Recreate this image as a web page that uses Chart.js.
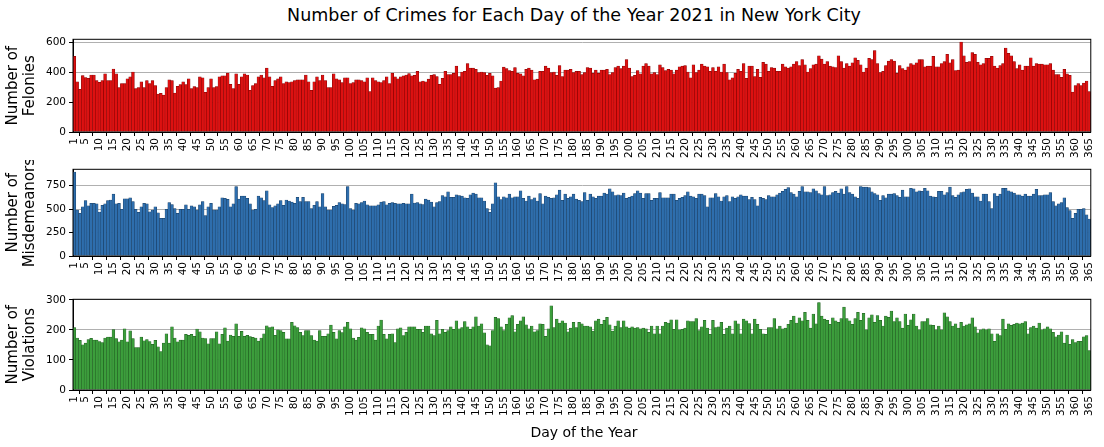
<!DOCTYPE html>
<html>
<head>
<meta charset="utf-8">
<script src="https://cdn.jsdelivr.net/npm/chart.js@4"></script>
<style>
  body { margin: 0; width: 1104px; height: 447px; background: #fff; font-family: "DejaVu Sans", sans-serif; position: relative; overflow: hidden; }
  #title { position: absolute; top: 5px; left: 0; width: 1148px; text-align: center; font-size: 17.5px; color: #000; }
  #xtitle { position: absolute; top: 424px; left: 0; width: 1168px; text-align: center; font-size: 14px; color: #000; }
  .wrap { position: absolute; left: 0; width: 1104px; }
</style>
</head>
<body>
<div id="title">Number of Crimes for Each Day of the Year 2021 in New York City</div>
<div class="wrap" style="top:30px;height:138px"><canvas id="c1"></canvas></div>
<div class="wrap" style="top:160px;height:132px"><canvas id="c2"></canvas></div>
<div class="wrap" style="top:290px;height:136px"><canvas id="c3"></canvas></div>
<div id="xtitle">Day of the Year</div>
<script>
const days = [];
for (let d = 1; d <= 365; d++) days.push(d);

const felonies = [
  504,335,285,376,363,357,380,380,342,331, 342,387,342,342,420,387,296,322,322,355,
  368,400,290,296,335,296,342,322,342,309, 253,257,246,296,348,342,259,305,316,335,
  316,355,290,303,296,368,361,264,296,355, 296,303,368,374,374,393,318,290,387,318,
  368,387,380,277,309,322,368,380,361,426, 368,305,342,355,368,322,335,329,335,342,
  348,348,348,380,335,277,335,368,342,380, 342,296,296,387,355,348,329,361,361,322,
  329,348,348,342,335,361,270,361,342,335, 329,342,368,322,393,368,355,368,374,380,
  389,374,378,404,335,340,335,352,378,383, 370,318,357,404,383,383,391,439,370,400,
  404,456,426,426,417,396,400,396,378,391, 374,292,296,340,432,422,409,404,430,391,
  387,374,417,426,413,348,352,404,404,439, 426,396,400,378,443,370,413,413,417,396,
  404,404,383,396,430,426,391,413,391,413, 413,417,383,396,430,439,422,439,482,426,
  370,378,409,387,439,456,439,387,396,383, 448,430,409,417,413,387,413,435,439,443,
  400,361,448,396,413,452,439,435,404,430, 404,435,400,452,396,348,361,391,417,404,
  456,357,439,439,370,
  417,365,465,452,404,430,426,404,404,452, 435,426,435,452,469,443,482,448,400,422,
  448,452,508,486,452,469,439,435,430,508, 469,426,456,439,461,495,478,448,400,426,
  491,482,543,456,396,404,443,473,482,473, 391,443,422,413,435,456,448,461,482,482,
  435,439,439,504,435,435,456,469,517,461, 482,409,413,599,508,465,469,530,517,465,
  448,456,491,491,504,439,426,443,456,560, 525,508,469,422,448,413,439,439,495,439,
  456,452,452,448,448,456,413,383,383,365, 417,387,378,266,309,322,309,326,340,270
];

const misdemeanors = [
  894,490,453,523,590,535,561,561,555,468, 539,555,590,596,658,555,561,496,609,609,
  619,580,496,465,523,561,555,471,490,523, 459,401,401,496,570,548,504,453,496,496,
  545,496,533,523,490,545,580,430,523,561, 490,490,523,619,613,603,523,555,740,606,
  638,638,613,555,490,496,638,619,590,693, 545,516,535,555,590,539,596,586,574,561,
  625,580,625,580,580,504,539,580,523,664, 523,490,490,529,539,568,555,548,740,504,
  490,561,555,568,586,545,535,535,535,545, 574,580,545,561,570,561,555,555,
  561,555,555,658,564,568,555,548,606,596, 574,523,568,580,644,631,683,625,625,650,
  644,638,619,613,650,670,658,619,619,586, 504,465,555,779,631,600,631,619,658,619,
  631,631,695,613,586,638,600,619,586,664, 555,638,625,613,619,650,701,593,658,613,
  631,658,606,593,580,676,593,658,631,613, 638,638,670,658,715,683,644,650,644,670,
  613,625,638,
  664,695,670,613,664,664,593,613,613,676, 619,619,619,658,658,593,613,625,644,683,
  638,631,613,658,658,644,523,619,619,664, 631,586,631,644,
  580,631,613,631,650,
  638,638,600,625,600,535,625,613,600,644, 631,631,650,670,689,709,728,676,658,631,
  689,740,683,683,676,715,695,664,650,740, 644,650,676,689,670,715,658,740,676,658,
  631,613,740,734,734,728,683,664,650,593, 644,619,658,658,664,644,625,701,631,631,
  721,715,683,695,689,721,695,638,631,625, 689,689,650,676,734,644,625,650,676,683,
  709,715,670,631,631,586,658,658,580,504, 664,638,658,721,721,695,683,670,650,650,
  638,658,638,638,658,709,644,644,650,650, 676,580,535,555,568,619,516,484,401,453,
  496,496,504,439,394
];

const violations = [
  208,173,165,150,156,168,172,166,166,161, 158,173,176,176,201,171,160,166,204,160,
  197,171,141,141,176,164,168,161,152,165, 144,128,156,187,156,210,173,160,166,166,
  185,182,185,179,203,194,173,171,154,171, 171,194,154,185,207,163,183,179,220,179,
  195,179,182,178,175,173,163,173,187,214, 208,210,182,200,198,192,170,170,225,214,
  208,192,181,198,198,181,166,163,198,179, 179,187,216,192,170,198,191,210,225,204,
  173,166,175,207,204,192,185,185,166,213, 233,185,170,185,187,158,204,207,181,192,
  210,
  210,210,202,202,192,213,213,187,181,232, 187,202,192,198,210,202,230,204,208,228,
  210,202,210,244,213,220,190,150,147,198, 242,238,210,198,219,240,248,194,219,230,
  244,217,204,213,194,198,220,219,179,204, 280,208,236,223,230,223,194,206,225,208,
  225,220,213,213,210,196,230,236,219,232, 242,217,196,213,230,208,230,210,206,210,
  206,208,204,206,204,192,213,187,213,187, 213,225,223,234,202,234,200,202,206,230,
  228,228,238,198,210,232,206,185,232,208, 210,225,185,206,213,187,230,220,187,236,
  230,221,187,236,219,
  202,187,185,208,208,238,204,213,204,206, 219,232,246,223,240,230,259,232,206,253,
  220,291,246,236,232,219,240,230,225,238, 276,238,230,219,238,259,232,255,200,240,
  250,225,248,232,213,246,242,263,228,240, 228,206,253,215,234,253,213,200,228,228,
  238,217,215,200,213,200,257,244,228,213, 220,206,225,213,217,220,240,210,190,200,
  204,200,204,187,162,187,181,236,202,220, 215,219,223,220,223,228,187,208,213,206,
  223,200,204,210,204,192,177,183,194,156, 183,152,168,158,162,162,177,181,131
];

const yTicks1 = [0, 200, 400, 600];
const yTicks2 = [0, 250, 500, 750];
const yTicks3 = [0, 100, 200, 300];

// full black frame around the plot area, like the reference
const frame = {
  id: 'frame',
  afterDraw(chart) {
    const a = chart.chartArea, c = chart.ctx;
    c.save();
    c.strokeStyle = '#000';
    c.lineWidth = 1;
    c.strokeRect(a.left, a.top, a.right - a.left, a.bottom - a.top);
    c.restore();
  }
};

function makeChart(id, data, fill, edge, yTitle, yMax, yTicks) {
  const ctx = document.getElementById(id).getContext('2d');
  return new Chart(ctx, {
    type: 'bar',
    data: {
      labels: days,
      datasets: [{
        data: data,
        backgroundColor: fill,
        borderColor: edge,
        borderWidth: 0.5,
        barPercentage: 1,
        categoryPercentage: 1
      }]
    },
    plugins: [frame],
    options: {
      responsive: true,
      maintainAspectRatio: false,
      animation: false,
      layout: { padding: { top: 3, right: 9, left: 4, bottom: 0 } },
      plugins: { legend: { display: false }, tooltip: { enabled: false } },
      scales: {
        x: {
          offset: true,
          border: { color: '#000', width: 1 },
          grid: { display: true, drawOnChartArea: false, color: '#000', tickLength: 4 },
          afterBuildTicks: function(scale) {
            scale.ticks = scale.ticks.filter(t => t.value === 0 || (t.value + 1) % 5 === 0);
          },
          afterFit: function(scale) { scale.height = 36; },
          ticks: {
            autoSkip: false,
            maxRotation: 90,
            minRotation: 90,
            color: '#000',
            padding: 2,
            font: { size: 10.5, family: 'DejaVu Sans' },
            callback: function(v) { return days[v]; }
          }
        },
        y: {
          min: 0,
          max: yMax,
          border: { color: '#000', width: 1 },
          grid: { color: '#b0b0b0', tickLength: 4, tickColor: '#000' },
          afterBuildTicks: function(scale) {
            scale.ticks = yTicks.map(v => ({ value: v }));
          },
          afterFit: function(scale) { scale.width = 69; },
          ticks: { color: '#000', padding: 3, font: { size: 10.5, family: 'DejaVu Sans' } },
          title: {
            display: true,
            text: yTitle,
            color: '#000',
            padding: 0,
            font: { size: 15, family: 'DejaVu Sans', lineHeight: 1.15 }
          }
        }
      }
    }
  });
}

makeChart('c1', felonies, '#dd1111', '#7a0000', ['Number of', 'Felonies'], 618, yTicks1);
makeChart('c2', misdemeanors, '#2e6ead', '#173a5e', ['Number of', 'Misdemeanors'], 923, yTicks2);
makeChart('c3', violations, '#3c9e3c', '#1d561d', ['Number of', 'Violations'], 302, yTicks3);
</script>
</body>
</html>
